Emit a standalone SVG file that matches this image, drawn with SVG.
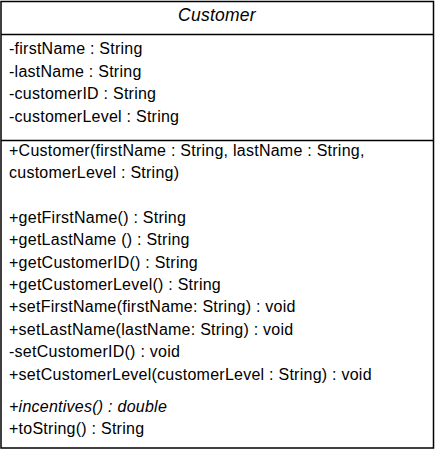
<svg xmlns="http://www.w3.org/2000/svg" width="439" height="455" viewBox="0 0 439 455">
<style>
.box{fill:#fff;stroke:#000;stroke-width:1.5}
.div{stroke:#000;stroke-width:1.5}
text{font-family:"Liberation Sans",Arial,sans-serif;font-size:16px;letter-spacing:0.25px;fill:#000}
.title{font-style:italic;font-size:17.5px;text-anchor:middle}
.it{font-style:italic}
</style>
<rect width="439" height="455" fill="#fff"/>
<g id="Customer">
<rect class="box" x="1" y="1.5" width="432.5" height="446.5"/>
<line class="div" x1="1" y1="34.5" x2="433.5" y2="34.5"/>
<line class="div" x1="1" y1="140.5" x2="433.5" y2="140.5"/>
<text class="title" x="217" y="21">Customer</text>
<text x="9" y="54">-firstName : String</text>
<text x="9" y="77">-lastName : String</text>
<text x="9" y="99">-customerID : String</text>
<text x="9" y="122">-customerLevel : String</text>
<text x="9" y="156">+Customer(firstName : String, lastName : String,</text>
<text x="9" y="178">customerLevel : String)</text>
<text x="9" y="223">+getFirstName() : String</text>
<text x="9" y="245">+getLastName () : String</text>
<text x="9" y="268">+getCustomerID() : String</text>
<text x="9" y="290">+getCustomerLevel() : String</text>
<text x="9" y="312">+setFirstName(firstName: String) : void</text>
<text x="9" y="335">+setLastName(lastName: String) : void</text>
<text x="9" y="357">-setCustomerID() : void</text>
<text x="9" y="380">+setCustomerLevel(customerLevel : String) : void</text>
<text class="it" x="9" y="412">+incentives() : double</text>
<text x="9" y="434">+toString() : String</text>
</g>
</svg>
